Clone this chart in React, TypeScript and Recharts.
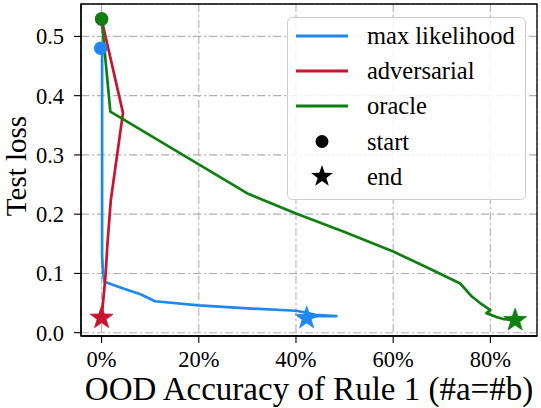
import React from 'react';
import {
  ComposedChart,
  Line,
  Scatter,
  XAxis,
  YAxis,
  CartesianGrid,
  ReferenceArea,
  Legend,
} from 'recharts';

const FONT = '"Liberation Serif", "DejaVu Serif", serif';

const xTicks = [0, 20, 40, 60, 80];
const yTicks = [0, 0.1, 0.2, 0.3, 0.4, 0.5];
const xDomain: [number, number] = [-4.24, 89.6];
const yDomain: [number, number] = [-0.0056, 0.5547];

const seriesNames = ['max likelihood', 'adversarial', 'oracle'];
const seriesColors = ['#1f88ee', '#c8142e', '#0f7f12'];

const maxLikelihood = [
  { x: -0.2, y: 0.48 },
  { x: 0.1, y: 0.47 },
  { x: 0.1, y: 0.13 },
  { x: 0.3, y: 0.1 },
  { x: 0.6, y: 0.086 },
  { x: 4, y: 0.076 },
  { x: 8, y: 0.065 },
  { x: 11, y: 0.053 },
  { x: 20, y: 0.046 },
  { x: 30, y: 0.041 },
  { x: 40, y: 0.037 },
  { x: 42, y: 0.034 },
  { x: 44, y: 0.03 },
  { x: 48.3, y: 0.028 },
  { x: 44.5, y: 0.028 },
  { x: 42.2, y: 0.025 },
];

const adversarial = [
  { x: 0, y: 0.529 },
  { x: 4.4, y: 0.371 },
  { x: 1.9, y: 0.224 },
  { x: 1.2, y: 0.15 },
  { x: 0.8, y: 0.095 },
  { x: 0, y: 0.025 },
];

const oracle = [
  { x: 0, y: 0.53 },
  { x: 1.8, y: 0.373 },
  { x: 30, y: 0.235 },
  { x: 40, y: 0.201 },
  { x: 50, y: 0.17 },
  { x: 60, y: 0.137 },
  { x: 67, y: 0.11 },
  { x: 73.8, y: 0.083 },
  { x: 76.2, y: 0.061 },
  { x: 77.9, y: 0.05 },
  { x: 80, y: 0.038 },
  { x: 79.2, y: 0.033 },
  { x: 81.4, y: 0.026 },
  { x: 82.7, y: 0.023 },
  { x: 85.1, y: 0.021 },
];

const startPoints = [
  [{ x: -0.2, y: 0.48 }],
  [{ x: 0, y: 0.529 }],
  [{ x: 0, y: 0.53 }],
];
const endPoints = [
  [{ x: 42.2, y: 0.0245 }],
  [{ x: 0, y: 0.025 }],
  [{ x: 85.1, y: 0.021 }],
];

const seriesData = [maxLikelihood, adversarial, oracle];

function starPath(cx: number, cy: number, R: number, r: number) {
  const pts: string[] = [];
  for (let i = 0; i < 10; i++) {
    const rad = i % 2 === 0 ? R : r;
    const a = -Math.PI / 2 + (i * Math.PI) / 5;
    pts.push(`${(cx + rad * Math.cos(a)).toFixed(2)},${(cy + rad * Math.sin(a)).toFixed(2)}`);
  }
  return `M${pts.join('L')}Z`;
}

const makeStar = (color: string) => (props: any) => {
  const { cx, cy } = props;
  if (cx == null || cy == null) return <g />;
  return <path d={starPath(cx, cy, 12, 4.8)} fill={color} stroke={color} strokeWidth={0.8} />;
};

const makeCircle = (color: string) => (props: any) => {
  const { cx, cy } = props;
  if (cx == null || cy == null) return <g />;
  return <circle cx={cx} cy={cy} r={6.7} fill={color} />;
};

function LegendBox() {
  const rows = [19, 54, 89, 124.5, 159.5];
  return (
    <svg width={240} height={184} style={{ display: 'block' }}>
      <rect x={0.5} y={0.5} width={238} height={182} rx={5} fill="#ffffff" fillOpacity={0.85} stroke="#cccccc" strokeWidth={1} />
      {seriesNames.map((n, i) => (
        <g key={n}>
          <line x1={9} x2={61} y1={rows[i]} y2={rows[i]} stroke={seriesColors[i]} strokeWidth={3} />
          <text x={80} y={rows[i] + 8.3} fontFamily={FONT} fontSize={24.5} fill="#000">{n}</text>
        </g>
      ))}
      <circle cx={35} cy={rows[3]} r={6.5} fill="#000" />
      <text x={80} y={rows[3] + 8.3} fontFamily={FONT} fontSize={24.5} fill="#000">start</text>
      <path d={starPath(35, rows[4], 11.5, 4.6)} fill="#000" />
      <text x={80} y={rows[4] + 8.3} fontFamily={FONT} fontSize={24.5} fill="#000">end</text>
    </svg>
  );
}

const XLabel = (props: any) => {
  const vb = props.viewBox || { x: 81, y: 336, width: 456, height: 72 };
  return (
    <text x={vb.x + vb.width / 2} y={vb.y + 64} textAnchor="middle" fontFamily={FONT} fontSize={33} fill="#000">
      OOD Accuracy of Rule 1 (#a=#b)
    </text>
  );
};

const YLabel = (props: any) => {
  const vb = props.viewBox || { x: 0, y: 4, width: 81, height: 332 };
  const cx = vb.x + 26;
  const cy = vb.y + vb.height / 2 - 4;
  return (
    <text x={cx} y={cy} transform={`rotate(-90 ${cx} ${cy})`} textAnchor="middle" fontFamily={FONT} fontSize={29} fill="#000">
      Test loss
    </text>
  );
};

export default function App() {
  return (
    <div style={{ position: 'absolute', left: 0, top: 0, width: 541, height: 408, background: '#fff' }}>
      <ComposedChart width={541} height={408} margin={{ top: 4, right: 4, bottom: 0, left: 0 }}>
        <CartesianGrid stroke="#b0b0b0" strokeWidth={1.1} strokeDasharray="8 3 2 3" />
        <XAxis
          type="number"
          dataKey="x"
          domain={xDomain}
          ticks={xTicks}
          allowDataOverflow
          tickFormatter={(v: number) => `${v}%`}
          height={72}
          tickSize={7}
          tickMargin={8}
          stroke="#000"
          tick={{ fontFamily: FONT, fontSize: 22.5, fill: '#000' }}
          axisLine={{ stroke: '#000', strokeWidth: 1.3 }}
          tickLine={{ stroke: '#000', strokeWidth: 1.1 }}
          label={<XLabel />}
        />
        <YAxis
          type="number"
          dataKey="y"
          domain={yDomain}
          ticks={yTicks}
          allowDataOverflow
          tickFormatter={(v: number) => v.toFixed(1)}
          width={81}
          tickSize={7}
          tickMargin={10}
          stroke="#000"
          tick={{ fontFamily: FONT, fontSize: 22.5, fill: '#000' }}
          axisLine={{ stroke: '#000', strokeWidth: 1.3 }}
          tickLine={{ stroke: '#000', strokeWidth: 1.1 }}
          label={<YLabel />}
        />
        <ReferenceArea x1={xDomain[0]} x2={xDomain[1]} y1={yDomain[0]} y2={yDomain[1]} fill="none" stroke="#000" strokeWidth={1.3} strokeOpacity={1} fillOpacity={0} />
        {seriesData.map((d, i) => (
          <Line
            key={seriesNames[i]}
            data={d}
            dataKey="y"
            type="linear"
            stroke={seriesColors[i]}
            strokeWidth={2.7}
            dot={false}
            activeDot={false}
            isAnimationActive={false}
            strokeLinejoin="round"
          />
        ))}
        {startPoints.map((d, i) => (
          <Scatter key={'s' + i} data={d} dataKey="y" shape={makeCircle(seriesColors[i])} isAnimationActive={false} />
        ))}
        {endPoints.map((d, i) => (
          <Scatter key={'e' + i} data={d} dataKey="y" shape={makeStar(seriesColors[i])} isAnimationActive={false} />
        ))}
        <Legend
          layout="vertical"
          align="center"
          verticalAlign="middle"
          content={() => <LegendBox />}
          wrapperStyle={{ position: 'absolute', left: 287, top: 17, width: 240, height: 184, margin: 0, padding: 0 }}
        />
      </ComposedChart>
    </div>
  );
}
